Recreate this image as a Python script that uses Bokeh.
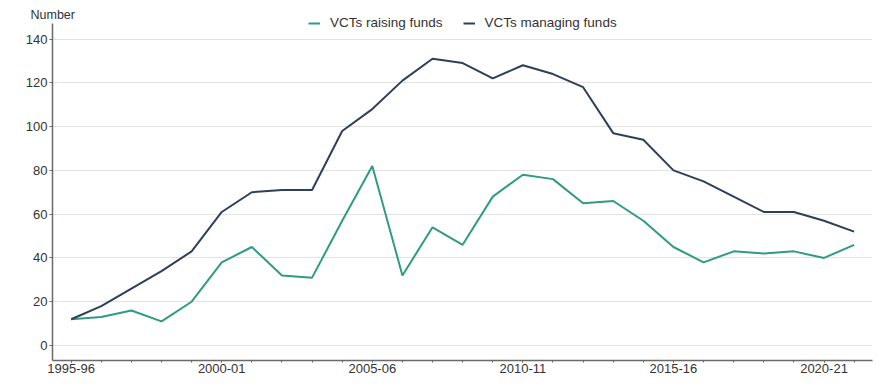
from bokeh.plotting import figure
from bokeh.models import FixedTicker, Legend, LegendItem, Range1d, Title
from bokeh.embed import file_html
from bokeh.resources import INLINE

years = ["1995-96", "1996-97", "1997-98", "1998-99", "1999-00", "2000-01", "2001-02",
         "2002-03", "2003-04", "2004-05", "2005-06", "2006-07", "2007-08", "2008-09",
         "2009-10", "2010-11", "2011-12", "2012-13", "2013-14", "2014-15", "2015-16",
         "2016-17", "2017-18", "2018-19", "2019-20", "2020-21", "2021-22"]
raising = [12, 13, 16, 11, 20, 38, 45, 32, 31, 57, 82, 32, 54, 46, 68, 78, 76, 65, 66,
           57, 45, 38, 43, 42, 43, 40, 46]
managing = [12, 18, 26, 34, 43, 61, 70, 71, 71, 98, 108, 121, 131, 129, 122, 128, 124,
            118, 97, 94, 80, 75, 68, 61, 61, 57, 52]
label_every = 5
y_ticks = [0, 20, 40, 60, 80, 100, 120, 140]

GREEN = "#2f9c82"
NAVY = "#2e3f5c"
FONT = "Liberation Sans"
TXT = "#333333"
AXIS = "#6a6a6a"

xs = list(range(len(years)))

p = figure(frame_width=820, frame_height=346, output_backend="svg", toolbar_location=None,
           x_range=Range1d(-0.62, 26.61), y_range=Range1d(-6.85, 151.2),
           min_border_left=52, min_border_top=14, min_border_right=12, min_border_bottom=10)
p.outline_line_color = None
p.background_fill_color = "white"
p.border_fill_color = "white"

r1 = p.line(xs, raising, line_color=GREEN, line_width=2)
r2 = p.line(xs, managing, line_color=NAVY, line_width=2)

major = [i for i in xs if i % label_every == 0]
p.xaxis.ticker = FixedTicker(ticks=major, minor_ticks=xs)
p.xaxis.major_label_overrides = {i: years[i] for i in major}
p.yaxis.ticker = FixedTicker(ticks=y_ticks)
p.yaxis.bounds = (-6.85, 147.1)

for ax in (p.xaxis[0], p.yaxis[0]):
    ax.axis_line_color = AXIS
    ax.axis_line_width = 1.5
    ax.major_tick_line_color = AXIS
    ax.minor_tick_line_color = AXIS
    ax.major_tick_in = 0
    ax.minor_tick_in = 0
    ax.major_label_text_font = FONT
    ax.major_label_text_font_size = "13px"
    ax.major_label_text_color = TXT
p.xaxis.major_tick_out = 2
p.xaxis.minor_tick_out = 2
p.xaxis.major_label_standoff = 1
p.yaxis.major_tick_out = 3
p.yaxis.major_label_standoff = 2
p.yaxis.minor_tick_line_color = None

p.xgrid.grid_line_color = None
p.ygrid.grid_line_color = "#e2e2e2"
p.ygrid.grid_line_width = 1

legend = Legend(items=[LegendItem(label="VCTs raising funds", renderers=[r1]),
                       LegendItem(label="VCTs managing funds", renderers=[r2])],
                orientation="horizontal", location=(256, 330),
                border_line_color=None, background_fill_alpha=0,
                padding=0, margin=0, spacing=20, glyph_width=12, glyph_height=14,
                label_height=14, label_standoff=10,
                label_text_font=FONT, label_text_font_size="13.5px", label_text_color=TXT)
p.add_layout(legend)

title = Title(text="Number", align="left", offset=-22, standoff=-14,
              text_font=FONT, text_font_size="12.5px", text_color=TXT,
              text_font_style="normal")
p.add_layout(title, "above")

open("out.html", "w").write(file_html(p, INLINE))
